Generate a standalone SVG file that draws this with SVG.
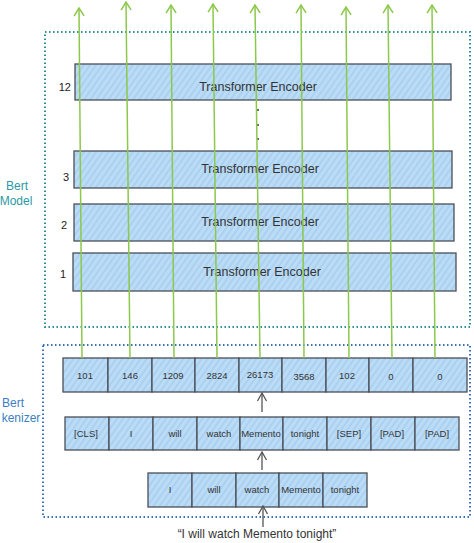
<svg xmlns="http://www.w3.org/2000/svg" width="474" height="543" viewBox="0 0 474 543">
<defs>
<pattern id="hatch" patternUnits="userSpaceOnUse" width="5" height="5" patternTransform="rotate(35)">
<rect width="5" height="5" fill="#bcdcf6"/>
<line x1="1" y1="0" x2="1" y2="5" stroke="#98c6ec" stroke-width="1"/>
</pattern>
<marker id="ga" markerWidth="12" markerHeight="12" refX="11" refY="6" orient="auto" markerUnits="userSpaceOnUse" viewBox="0 0 12 12">
<polyline points="3,1 11,6 3,11" fill="none" stroke="#8cc84b" stroke-width="1.5"/>
</marker>
<marker id="ka" markerWidth="12" markerHeight="12" refX="11" refY="6" orient="auto" markerUnits="userSpaceOnUse" viewBox="0 0 12 12">
<polyline points="3,1.5 11,6 3,10.5" fill="none" stroke="#555" stroke-width="1.3"/>
</marker>
</defs>
<style>
.box{fill:url(#hatch);stroke:#4a4f57;stroke-width:1.3}
.t{font-family:"Liberation Sans",Arial,sans-serif;font-size:12.5px;fill:#333;text-anchor:middle}
.c{font-family:"Liberation Sans",Arial,sans-serif;font-size:9.5px;fill:#333;text-anchor:middle}
.n{font-family:"Liberation Sans",Arial,sans-serif;font-size:11px;fill:#222;text-anchor:end}
.g{stroke:#8cc84b;stroke-width:1.5;fill:none}
.k{stroke:#555;stroke-width:1.3;fill:none}
.lab{font-family:"Liberation Sans",Arial,sans-serif;font-size:12px;text-anchor:middle}
</style>
<rect width="474" height="543" fill="#ffffff"/>
<g id="bert-model">
<rect x="45" y="32" width="425" height="295" fill="none" stroke="#2b8f9c" stroke-width="2" stroke-dasharray="1.5 2.5"/>
<text class="lab" x="17" y="190" fill="#2a9aa8">Bert</text>
<text class="lab" x="16" y="205" fill="#2a9aa8">Model</text>
</g>
<g id="bert-tokenizer">
<rect x="43" y="345" width="427" height="172" fill="none" stroke="#3a6fb5" stroke-width="2" stroke-dasharray="1.5 2.5"/>
<text class="lab" x="13" y="407" fill="#3b7fc4">Bert</text>
<text class="lab" x="21" y="422" fill="#3b7fc4">kenizer</text>
</g>
<g id="encoder-12">
<rect class="box" x="75" y="64" width="376" height="36"/>
<text class="t" x="258" y="91">Transformer Encoder</text>
<text class="n" x="71" y="91">12</text>
</g>
<g id="dots" fill="#333">
<circle cx="258" cy="110" r="1"/>
<circle cx="258" cy="125" r="1"/>
<circle cx="258" cy="139" r="1"/>
</g>
<g id="encoder-3">
<rect class="box" x="74" y="151" width="378" height="37"/>
<text class="t" x="260" y="173">Transformer Encoder</text>
<text class="n" x="69" y="181">3</text>
</g>
<g id="encoder-2">
<rect class="box" x="74" y="204" width="380" height="37"/>
<text class="t" x="260" y="226">Transformer Encoder</text>
<text class="n" x="67" y="229">2</text>
</g>
<g id="encoder-1">
<rect class="box" x="73" y="253" width="383" height="38"/>
<text class="t" x="262" y="276">Transformer Encoder</text>
<text class="n" x="66" y="278">1</text>
</g>
<g id="token-ids">
<rect class="box" x="63" y="358" width="45" height="34"/>
<rect class="box" x="108" y="358" width="44" height="34"/>
<rect class="box" x="152" y="358" width="43" height="34"/>
<rect class="box" x="195" y="358" width="44" height="34"/>
<rect class="box" x="239" y="358" width="43" height="34"/>
<rect class="box" x="282" y="358" width="44" height="34"/>
<rect class="box" x="326" y="358" width="43" height="34"/>
<rect class="box" x="369" y="358" width="44" height="34"/>
<rect class="box" x="413" y="358" width="54" height="34"/>
<text class="c" x="85" y="379">101</text>
<text class="c" x="130" y="379">146</text>
<text class="c" x="173" y="379">1209</text>
<text class="c" x="217" y="379">2824</text>
<text class="c" x="260" y="378">26173</text>
<text class="c" x="304" y="380">3568</text>
<text class="c" x="347" y="379">102</text>
<text class="c" x="391" y="380">0</text>
<text class="c" x="440" y="380">0</text>
</g>
<g id="tokens">
<rect class="box" x="65" y="417" width="44" height="33"/>
<rect class="box" x="109" y="417" width="44" height="33"/>
<rect class="box" x="153" y="417" width="44" height="33"/>
<rect class="box" x="197" y="417" width="43" height="33"/>
<rect class="box" x="240" y="417" width="43" height="33"/>
<rect class="box" x="283" y="417" width="44" height="33"/>
<rect class="box" x="327" y="417" width="44" height="33"/>
<rect class="box" x="371" y="417" width="44" height="33"/>
<rect class="box" x="415" y="417" width="44" height="33"/>
<text class="c" x="86" y="437">[CLS]</text>
<text class="c" x="131" y="437">I</text>
<text class="c" x="175" y="437">will</text>
<text class="c" x="219" y="437">watch</text>
<text class="c" x="261" y="437">Memento</text>
<text class="c" x="305" y="437">tonight</text>
<text class="c" x="349" y="437">[SEP]</text>
<text class="c" x="392" y="437">[PAD]</text>
<text class="c" x="437" y="437">[PAD]</text>
</g>
<g id="input-words">
<rect class="box" x="148" y="473" width="44" height="34"/>
<rect class="box" x="192" y="473" width="44" height="34"/>
<rect class="box" x="236" y="473" width="43" height="34"/>
<rect class="box" x="279" y="473" width="44" height="34"/>
<rect class="box" x="323" y="473" width="44" height="34"/>
<text class="c" x="170" y="493">I</text>
<text class="c" x="214" y="493">will</text>
<text class="c" x="257" y="493">watch</text>
<text class="c" x="301" y="493">Memento</text>
<text class="c" x="345" y="493">tonight</text>
</g>
<g id="input-text">
<text class="t" x="257" y="538" style="font-size:12px">“I will watch Memento tonight”</text>
</g>
<g id="connectors">
<line class="g" x1="82" y1="358" x2="79" y2="8" marker-end="url(#ga)"/>
<line class="g" x1="130" y1="358" x2="126" y2="2" marker-end="url(#ga)"/>
<line class="g" x1="174" y1="358" x2="171" y2="5" marker-end="url(#ga)"/>
<line class="g" x1="217" y1="358" x2="213" y2="4" marker-end="url(#ga)"/>
<line class="g" x1="260" y1="358" x2="255" y2="5" marker-end="url(#ga)"/>
<line class="g" x1="304" y1="358" x2="301" y2="5" marker-end="url(#ga)"/>
<line class="g" x1="349" y1="358" x2="346" y2="7" marker-end="url(#ga)"/>
<line class="g" x1="392" y1="358" x2="388" y2="5" marker-end="url(#ga)"/>
<line class="g" x1="435" y1="358" x2="432" y2="5" marker-end="url(#ga)"/>
<line class="k" x1="262" y1="412" x2="262" y2="393" marker-end="url(#ka)"/>
<line class="k" x1="262" y1="470" x2="262" y2="452" marker-end="url(#ka)"/>
<line class="k" x1="263" y1="527" x2="263" y2="506" marker-end="url(#ka)"/>
</g>
</svg>
